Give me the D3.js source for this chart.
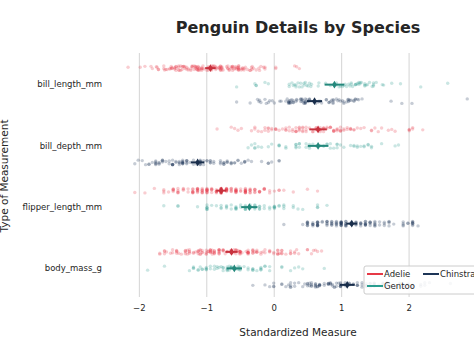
<!DOCTYPE html>
<html>
<head>
  <meta charset="utf-8">
  <title>Penguin Details by Species</title>
  <script src="https://cdn.jsdelivr.net/npm/d3@7"></script>
  <style>
    body { margin: 0; background: #fff; }
    text { font-family: "DejaVu Sans", sans-serif; fill: #262626; }
  </style>
</head>
<body>
  <svg width="474" height="355" id="mainsvg"></svg>
  <script>
    const measures = ['bill_length_mm', 'bill_depth_mm', 'flipper_length_mm', 'body_mass_g'];
    const species = ['Adelie', 'Gentoo', 'Chinstrap'];
    const colors = ['#e63946', '#2a9d8f', '#1d3557'];
    const xTicks = [-2, -1, 0, 1, 2];

    // standardized values, one array per row (legend label / measurement)
    const adelieBillLength = [-0.88,-0.81,-0.66,-1.32,-0.85,-0.92,-0.86,-1.80,-0.35,-1.12,-1.12,-0.52,-0.97,-1.71,-1.34,-0.96,-0.26,-1.74,0.38,-1.12,-1.14,-1.47,-1.05,-0.93,-1.58,-0.61,-0.63,-1.10,-0.63,-0.81,-1.23,-0.81,-0.55,-1.38,-0.86,-0.93,-0.32,-1.16,-0.75,-1.36,-0.57,-1.45,0.03,-1.27,-0.79,-0.52,-1.18,-1.45,-0.30,-0.79,-0.70,-1.63,-0.35,-1.73,-0.46,-0.90,-0.61,-1.36,-1.16,-1.51,-0.48,-1.16,-0.52,-1.38,-0.42,-1.54,-0.52,-1.47,-0.39,-1.91,-0.77,-0.79,0.34,-1.54,-0.21,-0.55,-1.23,-1.41,-0.33,-1.71,-0.19,-1.32,-1.62,-1.21,-0.48,-1.40,-1.29,-1.03,-0.92,-1.51,-0.52,-1.82,-0.79,-1.41,-0.57,-1.07,-0.66,-1.98,-0.13,-1.63,-0.53,-1.14,-1.12,-1.10,-0.77,-0.97,-1.05,-1.07,-0.13,-1.07,0.31,-0.77,-0.32,-0.79,-0.22,-0.97,-1.21,-1.51,-0.52,-1.41,-1.14,-0.68,-0.46,-1.60,-0.61,-0.93,-0.44,-0.90,0.03,-0.99,-0.15,-1.30,-1.18,-1.07,-0.52,-1.52,-0.68,-1.27,-0.77,-0.68,-0.61,-2.16,-0.59,-1.21,-0.90,-0.86,-1.34,-1.45,-1.12,-1.45,-0.44];
    const gentooBillLength = [0.47,1.11,1.35,0.27,1.61,0.23,0.40,1.35,0.38,1.35,0.49,1.42,0.56,1.48,0.36,1.21,1.17,2.58,0.45,0.97,-0.28,0.84,-0.13,1.22,0.51,1.48,1.21,1.02,0.45,1.63,-0.55,1.88,-0.26,1.30,1.06,0.66,0.67,1.48,0.55,1.75,0.93,0.42,1.28,0.29,1.28,1.26,1.13,0.93,1.39,1.08,0.77,1.37,0.33,1.24,-0.26,1.52,0.23,0.99,1.15,0.31,1.46,0.53,0.33,2.18,-0.08,1.04,1.26,1.15];
    const chinstrapBillLength = [0.40,1.11,0.88,1.11,0.67,0.47,0.27,0.51,-0.11,0.53,-0.55,0.93,0.29,0.82,0.34,0.99,-0.35,0.97,0.42,0.88,1.15,0.22,0.47,0.44,-0.19,0.40,0.11,0.71,0.78,1.11,0.62,-0.21,0.22,2.87,0.95,0.82,-0.24,0.09,0.01,0.88,-0.22,1.04,0.25,1.04,1.21,-0.06,0.29,1.21,0.18,0.23,0.49,0.84,0.22,1.13,0.47,0.20,-0.02,0.29,-0.13,1.19,0.25,0.42,0.33,1.90,0.34,1.08,0.42,1.02,-0.08,1.24,0.69,0.45,0.78,0.47,0.45,0.86,0.66,1.31,0.23,0.25,0.53,1.74,0.47,1.26,0.40,2.05,0.89,0.60,0.53,1.19,0.23,1.10];

    const adelieBillDepth = [0.79,0.13,0.43,1.09,1.75,0.33,1.24,0.48,1.55,-0.03,0.08,0.23,2.06,2.01,0.33,0.94,1.80,0.63,2.21,0.58,0.79,1.04,0.48,0.03,0.89,0.74,0.38,-0.23,-0.08,2.01,0.33,0.74,0.89,0.38,1.04,1.45,0.69,1.09,0.99,0.43,0.63,0.69,1.29,-0.13,0.84,0.94,0.38,2.06,0.28,0.89,0.38,1.19,0.48,0.74,0.18,0.84,-0.28,0.99,-0.13,2.01,-0.08,0.53,-0.03,0.43,-0.48,0.99,-0.28,1.14,0.94,0.63,0.03,0.89,0.18,0.69,-0.18,1.14,-0.53,0.99,0.03,0.23,0.84,1.14,0.33,1.60,1.19,0.74,-0.58,1.45,-0.63,-0.84,-0.33,1.34,0.69,0.28,1.50,0.18,0.58,-0.08,1.70,0.43];
    const gentooBillDepth = [0.38,1.19,1.04,0.79,1.34,0.33,0.53,0.53,0.89,1.40,0.33,1.60,0.08,0.48,-0.03,1.24,1.45,0.33,0.74,0.53,0.08,0.18,-0.28,1.14,0.38,0.94,0.63,0.94,0.33,1.45,-0.28,1.85,-0.23,0.84,0.74,-0.18,0.58,1.80,-0.28,1.40,1.19,0.18,0.99,-0.08,0.38,0.69,1.24,0.79,0.08,-0.38,0.94,1.29,0.84,-0.33,1.34,0.48];
    const chinstrapBillDepth = [-2.01,-0.43,-1.55,-0.99,-1.35,-1.85,-1.29,-0.94,-1.90,-0.89,-1.75,-0.53,-1.75,-1.29,-1.29,-0.74,-1.85,-0.99,-1.35,-1.04,-1.45,-1.35,-1.35,-0.69,-2.06,-1.04,-1.45,-1.09,-0.94,-0.94,-1.50,-1.35,-0.08,-1.19,-0.43,-1.75,0.08,-1.80,-0.74,-1.75,-0.58,-1.75,-1.09,-0.63,-1.65,-1.65,-0.63,-1.95,-0.69,-1.50,-1.55,-1.40,-1.09,-1.40,-0.89,-1.65,-1.09,-1.35,-0.94,-1.70,-1.14,-1.65,-0.74,-1.50,-0.18,-0.48,-1.50,-1.09,-1.09,-0.79,-0.79,-1.19,-1.09,-0.58,-1.50,-0.43,-1.70,-0.38,-1.35,-0.79,-1.29,-0.63,-1.70,0.08,-1.40,-1.50,-1.60,-0.08,-1.09,-0.03,-1.35,-0.53,-1.24,-0.74,-0.69,-1.29,-1.40,-0.33];

    const adelieFlipper = [-1.42,-1.06,-0.42,-0.56,-0.78,-1.42,-0.42,-0.56,-0.78,-1.06,-1.49,-1.34,-0.70,-0.21,-1.13,-0.42,-0.28,-1.20,-0.49,-1.91,-1.49,-0.85,-1.13,-1.49,-0.99,-1.27,-0.99,-2.06,-1.49,-1.63,-1.63,-0.92,-1.20,-0.42,-0.35,-0.78,-1.49,-1.42,-1.20,-1.34,-0.42,-1.06,-0.35,-1.13,-0.78,-1.34,-1.56,-0.78,-0.70,-1.06,-0.92,-0.78,-0.06,-0.99,-0.70,-1.06,-0.56,-1.42,-0.49,-1.13,-0.42,-1.13,-0.63,-1.20,-0.63,-0.42,-0.92,-0.78,-0.21,-0.78,-0.78,-0.35,-0.28,-0.78,-0.42,-0.70,-1.20,-0.99,-0.42,-0.85,-0.35,-0.99,-0.56,-0.70,-0.49,-0.78,-0.85,-0.85,-0.78,0.08,0.29,-1.13,-1.06,-0.99,0.50,-0.78,-0.35,-1.63,-0.63,-0.63,0.15,-1.27,-0.78,-0.56,-1.20,-0.14,-0.78,-1.42,-0.28,-0.21,-0.70,-0.56,-0.28,-0.70,-0.35,-0.92,-0.14,-0.85,-0.85,-0.99,-0.21,-1.77,0.08,-1.06,-0.14,-0.70,-0.42,-0.70,0.65,-0.78,-0.28,-0.56,-0.14,-0.99,-0.78,-0.70,-0.06,-1.13,-0.56,-0.56,-0.99,-0.92,-0.78,-0.63,-1.13,-0.78,-1.20,-0.42,-0.56,-0.99,0.01];
    const gentooFlipper = [-0.63,-0.35,-0.56,-0.92,-0.28,-0.21,-1.63,-0.28,-0.42,-0.21,-0.56,-0.49,-1.13,0.01,-0.78,0.01,-0.28,-1.42,-0.78,-0.42,-1.42,-0.70,-0.99,-0.56,-0.42,-0.28,-0.06,-0.06,-0.70,0.29,-0.99,0.01,-0.99,0.15,-0.42,-0.14,-0.42,0.65,-0.63,0.29,0.65,-0.99,-0.35,-0.35,-0.35,0.01,-0.78,0.79,-0.99,-0.21,-0.14,0.01,-0.56,0.15,-0.99,-0.28,-0.70,0.15,0.08,-0.49,0.36,-0.85,-0.42,0.43,0.08,-0.56,0.65,-0.21];
    const chinstrapFlipper = [0.72,2.06,0.65,1.22,1.00,0.65,0.72,1.29,0.58,1.00,0.93,1.07,0.93,0.86,0.65,1.15,0.65,1.43,0.58,1.50,1.22,1.00,0.86,1.00,1.00,1.00,1.07,1.00,0.65,1.36,1.50,0.58,0.43,2.06,1.36,1.36,0.86,1.29,0.50,0.50,0.50,1.71,0.65,1.07,1.50,1.15,0.65,1.71,0.86,1.00,0.65,1.36,0.65,1.71,1.15,1.36,0.50,1.36,0.50,1.64,0.50,1.43,0.93,2.14,1.29,2.06,0.93,1.99,1.36,1.57,1.07,1.43,1.43,1.15,1.07,2.06,0.58,1.36,1.00,1.57,0.79,1.43,0.79,1.64,0.79,1.92,1.22,1.22,0.79,2.06,1.22,1.92,0.79,1.64,0.93,1.78,1.07,1.50,0.15,1.71,1.29,1.92,1.00,1.92,1.07,1.00,0.65,1.29,0.50,0.58,1.07,1.99,0.86,2.06,1.15,2.06,1.15,1.50,0.93,1.00,1.50,0.79,0.86];

    const adelieMass = [-0.56,-0.50,-1.19,-0.94,-0.69,-0.72,0.59,-0.91,0.06,-1.12,-0.63,-1.25,-0.50,0.25,-0.63,-0.94,0.37,-1.09,0.00,-1.00,-0.75,-0.50,-0.31,-0.50,-0.50,-0.81,-1.25,-1.31,-0.31,-1.19,-0.38,-1.12,-0.38,-1.09,-0.06,-0.31,-0.81,-1.12,0.56,-1.31,-0.38,-1.37,0.25,-1.50,0.50,-0.97,-1.53,-0.94,-0.06,-0.88,0.12,-0.94,-0.19,-1.62,-0.63,-0.81,-0.50,-1.69,-0.56,-1.31,0.25,-0.75,-0.19,-1.69,-0.31,-1.06,-0.13,-1.44,0.31,-0.75,-0.38,-0.81,-0.06,-0.63,0.06,-0.63,-0.38,-0.81,-0.25,-1.25,0.62,-0.50,0.00,-1.06,-0.81,-0.50,-0.88,-0.31,-0.75,-0.81,0.12,-1.00,0.31,-1.12,0.12,-0.63,0.18,-1.62,-0.13,-0.59,0.65,-1.41,0.06,-1.59,-0.81,-0.56,-0.38,-1.28,0.71,-0.47,0.50,-1.25,0.09,-0.38,-0.16,-1.62,-0.53,-1.06,-1.09,-1.31,-0.88,-0.94,-0.41,-1.44,-0.25,-1.16,0.12,-1.44,-0.25,-1.09,-0.88,-0.88,0.34,-0.97,-0.38,-1.28,-0.28,-1.00,0.06,-1.00,-0.91,-1.44,-0.59,-1.50,-0.69,0.06,-0.91,-0.94,-0.56,-0.63,-0.25];
    const gentooMass = [-0.88,-0.38,-0.69,-0.84,-0.59,-0.31,-1.19,-0.56,-0.06,-0.63,-0.50,-0.53,-0.63,-0.19,-0.78,-0.19,-1.12,-0.63,-0.94,0.25,-0.75,-1.00,-1.62,-0.50,-1.12,-0.06,-1.00,-0.50,-0.63,0.43,-1.25,0.12,-1.06,-0.13,-0.75,-0.38,-0.44,0.75,-1.87,0.37,-0.31,-0.69,-0.81,-0.88,-0.66,0.31,-1.00,0.12,-1.19,-0.66,-1.09,-0.31,-0.75,-0.19,-1.06,-0.94,-1.19,-0.19,-0.50,-0.84,-0.31,-0.69,-0.69,-0.25,-1.00,-0.53,-0.13,-0.53];
    const chinstrapMass = [0.37,1.87,0.31,1.87,1.49,0.43,0.75,1.24,0.25,1.18,0.56,1.68,0.56,2.06,0.00,2.06,-0.06,2.62,0.75,1.43,1.87,0.99,0.25,1.06,0.99,1.12,-0.13,1.81,0.50,1.68,1.31,0.62,1.06,2.31,1.18,1.49,0.93,1.31,0.18,1.43,-0.31,1.87,0.12,0.68,1.68,0.87,0.00,1.49,1.12,1.37,0.81,1.37,0.25,0.99,0.87,1.06,0.12,0.99,0.31,1.68,0.00,1.37,0.25,1.81,0.62,1.87,0.56,1.99,0.62,1.68,0.68,0.99,1.12,1.24,0.62,1.99,0.50,2.24,0.68,2.18,0.53,1.56,0.65,1.43,0.68,1.74,0.50,1.37,0.84,1.68,0.93,1.49,0.68,1.81,0.81,1.24,0.90,0.84,0.53,1.31,0.81,1.74,0.96,1.62,0.65,1.62,0.62,1.62,0.46,1.62,0.99,2.18,0.56,1.62,0.22,2.06,0.84,2.24,0.90,0.81,1.93,1.24,1.49];

    const rows = [
      { measure: 'bill_length_mm', species: 'Adelie', values: adelieBillLength },
      { measure: 'bill_length_mm', species: 'Gentoo', values: gentooBillLength },
      { measure: 'bill_length_mm', species: 'Chinstrap', values: chinstrapBillLength },
      { measure: 'bill_depth_mm', species: 'Adelie', values: adelieBillDepth },
      { measure: 'bill_depth_mm', species: 'Gentoo', values: gentooBillDepth },
      { measure: 'bill_depth_mm', species: 'Chinstrap', values: chinstrapBillDepth },
      { measure: 'flipper_length_mm', species: 'Adelie', values: adelieFlipper },
      { measure: 'flipper_length_mm', species: 'Gentoo', values: gentooFlipper },
      { measure: 'flipper_length_mm', species: 'Chinstrap', values: chinstrapFlipper },
      { measure: 'body_mass_g', species: 'Adelie', values: adelieMass },
      { measure: 'body_mass_g', species: 'Gentoo', values: gentooMass },
      { measure: 'body_mass_g', species: 'Chinstrap', values: chinstrapMass }
    ];

    const svg = d3.select('#mainsvg');
    const plotTop = 53, plotBottom = 297;

    const x = d3.scaleLinear().domain([-2.25, 2.97]).range([122, 474]);
    const y = d3.scaleBand().domain(measures).range([54, 299]);
    const dodge = d3.scalePoint().domain(species).range([-16.5, 16.5]);
    const color = d3.scaleOrdinal().domain(species).range(colors);
    const rowY = r => y(r.measure) + y.bandwidth() / 2 + dodge(r.species);

    // grid + x tick labels
    const xAxis = svg.append('g')
      .attr('transform', `translate(0, ${plotBottom})`)
      .call(d3.axisBottom(x).tickValues(xTicks).tickFormat(d3.format('d'))
        .tickSize(-(plotBottom - plotTop)).tickPadding(8));
    xAxis.select('.domain').remove();
    xAxis.selectAll('line').attr('stroke', '#d4d4d4').attr('stroke-width', 1);
    xAxis.selectAll('text').attr('font-size', 8.5).attr('fill', '#333');

    // y labels
    const yAxis = svg.append('g')
      .attr('transform', 'translate(105, 0)')
      .call(d3.axisLeft(y).tickSize(0).tickPadding(3));
    yAxis.select('.domain').remove();
    yAxis.selectAll('text').attr('font-size', 8.5).attr('fill', '#333');

    // strip points
    rows.forEach(r => {
      const cy = rowY(r);
      svg.append('g').selectAll('circle').data(r.values).join('circle')
        .attr('cx', d => x(d))
        .attr('cy', (d, i) => cy + ((i * 37) % 11 - 5) * 0.45)
        .attr('r', 1.7)
        .attr('fill', color(r.species))
        .attr('fill-opacity', 0.25);
    });

    // mean + 95% CI
    const diamond = 'M0,-3.8L2.4,0L0,3.8L-2.4,0Z';
    rows.forEach(r => {
      const m = d3.mean(r.values);
      const ci = 1.96 * d3.deviation(r.values) / Math.sqrt(r.values.length);
      const cy = rowY(r);
      const dark = d3.color(color(r.species)).darker(0.4).formatHex();
      svg.append('line')
        .attr('x1', x(m - ci)).attr('x2', x(m + ci))
        .attr('y1', cy).attr('y2', cy)
        .attr('stroke', dark).attr('stroke-width', 2);
      svg.append('path')
        .attr('d', diamond)
        .attr('transform', `translate(${x(m)}, ${cy})`)
        .attr('fill', dark);
    });

    // title + axis labels
    svg.append('text')
      .attr('x', 298).attr('y', 33)
      .attr('text-anchor', 'middle')
      .attr('font-size', 16).attr('font-weight', 'bold')
      .text('Penguin Details by Species');

    svg.append('text')
      .attr('x', 298).attr('y', 336)
      .attr('text-anchor', 'middle')
      .attr('font-size', 10.5)
      .text('Standardized Measure');

    svg.append('text')
      .attr('transform', 'translate(8, 176) rotate(-90)')
      .attr('text-anchor', 'middle')
      .attr('font-size', 10.5)
      .text('Type of Measurement');

    // legend (runs off the right edge, as in the source figure)
    const legend = svg.append('g').attr('transform', 'translate(364, 266)');
    legend.append('rect')
      .attr('width', 124).attr('height', 28).attr('rx', 2)
      .attr('fill', '#fff').attr('fill-opacity', 0.85)
      .attr('stroke', '#cccccc');
    const legendPos = [[3, 8], [3, 20], [59, 8]];
    species.forEach((s, i) => {
      const [lx, ly] = legendPos[i];
      legend.append('line')
        .attr('x1', lx).attr('x2', lx + 16)
        .attr('y1', ly).attr('y2', ly)
        .attr('stroke', color(s)).attr('stroke-width', 2);
      legend.append('text')
        .attr('x', lx + 17).attr('y', ly + 3)
        .attr('font-size', 8.5).attr('fill', '#333')
        .text(s);
    });
  </script>
</body>
</html>
